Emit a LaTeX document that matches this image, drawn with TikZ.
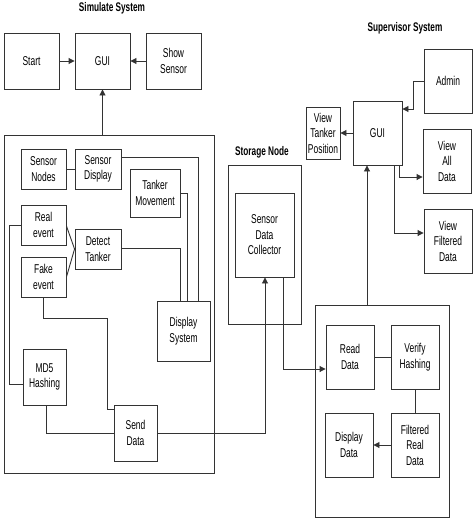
\documentclass[tikz,border=0pt]{standalone}
\usepackage{fontspec}
\setmainfont[FakeStretch=0.66]{Liberation Sans}
\usetikzlibrary{arrows.meta}
\definecolor{ln}{HTML}{333333}
\begin{document}
\begin{tikzpicture}[x=1pt,y=-1pt,
  every node/.style={font=\fontsize{12.8}{15.5}\selectfont, text=black},
  blk/.style={draw=ln, line width=0.9pt, inner sep=0pt, align=center},
  grp/.style={draw=ln, line width=0.9pt, inner sep=0pt},
  ttl/.style={font=\fontsize{12.5}{15}\selectfont\bfseries},
  wire/.style={draw=ln, line width=0.9pt},
  arr/.style={wire, -{Triangle[width=6pt,length=6pt]}}]
\useasboundingbox (0,0) rectangle (474,519);
% titles
\node[ttl] (t1) at (112,8) {Simulate System};
\node[ttl] (t2) at (405,28) {Supervisor System};
\node[ttl] (t3) at (262,152) {Storage Node};
% simulate system
\node[blk, minimum width=55pt, minimum height=56pt] (start) at (31.5,61) {Start};
\node[blk, minimum width=55pt, minimum height=56pt] (gui1) at (102.5,61) {GUI};
\node[blk, minimum width=55pt, minimum height=56pt] (show) at (173.5,61) {Show\\Sensor};
\node[grp, minimum width=210pt, minimum height=338pt] (sim) at (109,304) {};
\node[blk, minimum width=45pt, minimum height=40pt] (snodes) at (43.5,169) {Sensor\\Nodes};
\node[blk, minimum width=46pt, minimum height=40pt] (sdisp) at (98,169) {Sensor\\Display};
\node[blk, minimum width=50pt, minimum height=48pt] (tank) at (155,193) {Tanker\\Movement};
\node[blk, minimum width=45pt, minimum height=40pt] (real) at (43.5,225) {Real\\event};
\node[blk, minimum width=45pt, minimum height=40pt] (fake) at (43.5,277) {Fake\\event};
\node[blk, minimum width=46pt, minimum height=40pt] (detect) at (98,249) {Detect\\Tanker};
\node[blk, minimum width=53pt, minimum height=60pt] (dsys) at (183.5,331) {Display\\System};
\node[blk, minimum width=43pt, minimum height=56pt] (md5) at (44.5,377) {MD5\\Hashing};
\node[blk, minimum width=43pt, minimum height=56pt] (send) at (135.5,433) {Send\\Data};
% storage node
\node[grp, minimum width=73pt, minimum height=159pt] (stor) at (264.5,244.5) {};
\node[blk, minimum width=59pt, minimum height=84pt] (sdc) at (264.5,235) {Sensor\\Data\\Collector};
% supervisor
\node[blk, minimum width=48pt, minimum height=64pt] (admin) at (448,81) {Admin};
\node[blk, minimum width=49pt, minimum height=64pt] (gui2) at (377.5,133) {GUI};
\node[blk, minimum width=34pt, minimum height=52pt] (vtp) at (323,133) {View\\Tanker\\Position};
\node[blk, minimum width=48pt, minimum height=64pt] (vall) at (447,161) {View\\All\\Data};
\node[blk, minimum width=48pt, minimum height=64pt] (vfil) at (448,241) {View\\Filtered\\Data};
\node[grp, minimum width=134pt, minimum height=212pt] (low) at (382,411) {};
\node[blk, minimum width=48pt, minimum height=64pt] (read) at (350,357) {Read\\Data};
\node[blk, minimum width=48pt, minimum height=64pt] (verify) at (415,357) {Verify\\Hashing};
\node[blk, minimum width=48pt, minimum height=64pt] (filt) at (415,445) {Filtered\\Real\\Data};
\node[blk, minimum width=48pt, minimum height=64pt] (ddata) at (349,445) {Display\\Data};
% coordinates
\coordinate (c1) at (198,157);
\coordinate (c2) at (187,193);
\coordinate (c3) at (180,248);
\coordinate (r1) at (9,225);
\coordinate (r2) at (9,384);
\coordinate (f1) at (43,318);
\coordinate (f2) at (107,318);
\coordinate (f3) at (107,409);
\coordinate (m1) at (46,433);
\coordinate (s1) at (265,433);
\coordinate (d1) at (283,369);
\coordinate (a1) at (413,81);
\coordinate (a2) at (413,109);
\coordinate (g1) at (399,177);
\coordinate (g2) at (394,233);
% connectors
\draw[arr] (start) -- (gui1);
\draw[arr] (show) -- (gui1);
\draw[arr] (gui1.south |- sim.north) -- (gui1.south);
\draw[wire] (snodes) -- (sdisp);
\draw[wire] (sdisp.east |- c1) -| (c1 |- dsys.north);
\draw[wire] (tank.east |- c2) -| (c2 |- dsys.north);
\draw[wire] (detect.east |- c3) -| (c3 |- dsys.north);
\draw[wire] (real.east |- 0,226) -- (detect.west);
\draw[wire] (fake.east) -- (detect.west);
\draw[wire] (real.west) -- (r1) -- (r2) -- (md5.west |- r2);
\draw[wire] (fake.south -| f1) -- (f1) -- (f2) -- (f3) -- (send.west |- f3);
\draw[wire] (md5.south -| m1) -- (m1) -- (send.west);
\draw[arr] (send.east) -- (s1) -- (s1 |- sdc.south);
\draw[arr] (sdc.south -| d1) -- (d1) -- (read.west |- d1);
\draw[arr] (admin.west) -- (a1) -- (a2) -- (gui2.east |- a2);
\draw[arr] (gui2) -- (vtp);
\draw[arr] (gui2.south -| g1) -- (g1) -- (vall.west |- g1);
\draw[arr] (gui2.south -| g2) -- (g2) -- (vfil.west |- g2);
\draw[arr] (low.north -| 367,0) -- (gui2.south -| 367,0);
\draw[wire] (read) -- (verify);
\draw[wire] (verify) -- (filt);
\draw[arr] (filt) -- (ddata);
\end{tikzpicture}
\end{document}
